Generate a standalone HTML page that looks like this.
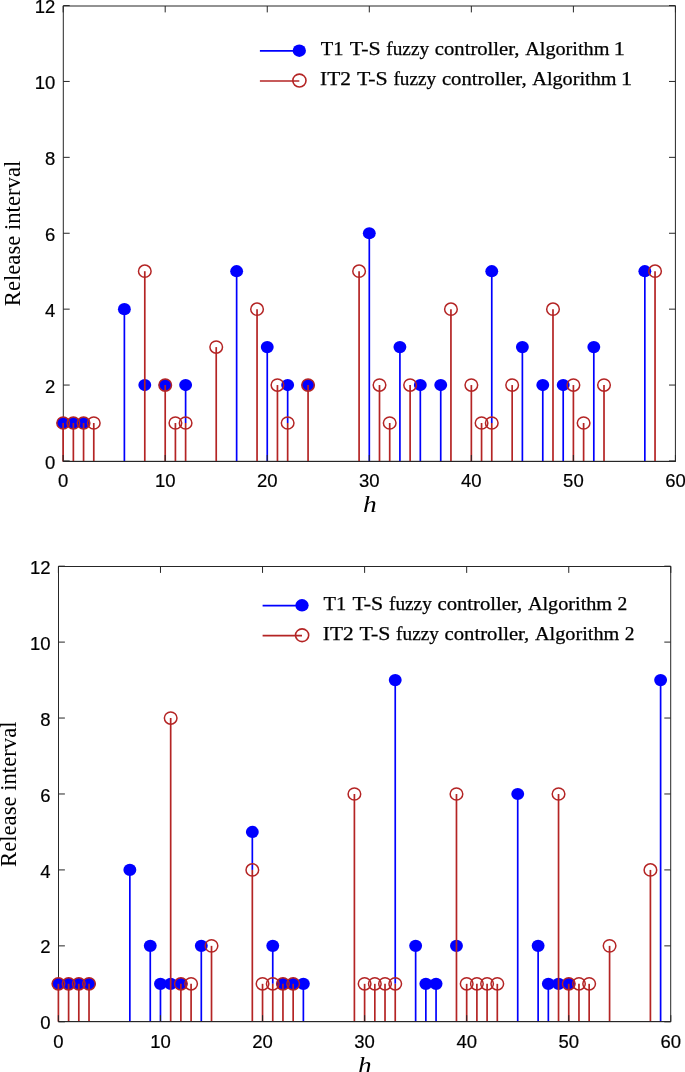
<!DOCTYPE html>
<html><head><meta charset="utf-8"><title>Release interval</title>
<style>
html,body{margin:0;padding:0;background:#fff;}
body{width:685px;height:1072px;overflow:hidden;}
svg{display:block;}
.tk{font-family:"Liberation Sans",Arial,sans-serif;font-size:18.5px;fill:#000;stroke:#000;stroke-width:0.2px;}
.xl{font-family:"Liberation Serif","Times New Roman",serif;font-style:italic;font-size:22.3px;fill:#000;}
.yl{font-family:"Liberation Serif","Times New Roman",serif;font-size:22.7px;fill:#000;}
.lg{font-family:"Liberation Serif","Times New Roman",serif;font-size:17.8px;fill:#000;stroke:#000;stroke-width:0.25px;}
</style></head><body>
<svg width="685" height="1072" viewBox="0 0 685 1072">
<rect width="685" height="1072" fill="#fff"/>
<rect x="63.3" y="6" width="612.1" height="455.4" fill="none" stroke="#262626" stroke-width="1"/>
<line x1="124.38" y1="461.4" x2="124.38" y2="309.15" stroke="#0000ff" stroke-width="1.7"/>
<line x1="185.61" y1="423" x2="185.61" y2="385.05" stroke="#0000ff" stroke-width="1.7"/>
<line x1="236.64" y1="461.4" x2="236.64" y2="271.2" stroke="#0000ff" stroke-width="1.7"/>
<line x1="267.25" y1="461.4" x2="267.25" y2="347.1" stroke="#0000ff" stroke-width="1.7"/>
<line x1="287.66" y1="423" x2="287.66" y2="385.05" stroke="#0000ff" stroke-width="1.7"/>
<line x1="369.3" y1="461.4" x2="369.3" y2="233.25" stroke="#0000ff" stroke-width="1.7"/>
<line x1="399.91" y1="461.4" x2="399.91" y2="347.1" stroke="#0000ff" stroke-width="1.7"/>
<line x1="420.32" y1="461.4" x2="420.32" y2="385.05" stroke="#0000ff" stroke-width="1.7"/>
<line x1="440.73" y1="461.4" x2="440.73" y2="385.05" stroke="#0000ff" stroke-width="1.7"/>
<line x1="491.76" y1="423" x2="491.76" y2="271.2" stroke="#0000ff" stroke-width="1.7"/>
<line x1="522.38" y1="461.4" x2="522.38" y2="347.1" stroke="#0000ff" stroke-width="1.7"/>
<line x1="542.78" y1="461.4" x2="542.78" y2="385.05" stroke="#0000ff" stroke-width="1.7"/>
<line x1="563.2" y1="461.4" x2="563.2" y2="385.05" stroke="#0000ff" stroke-width="1.7"/>
<line x1="593.81" y1="461.4" x2="593.81" y2="347.1" stroke="#0000ff" stroke-width="1.7"/>
<line x1="644.84" y1="461.4" x2="644.84" y2="271.2" stroke="#0000ff" stroke-width="1.7"/>
<ellipse cx="63.15" cy="423" rx="6.45" ry="6.1" fill="#0000ff"/>
<ellipse cx="73.36" cy="423" rx="6.45" ry="6.1" fill="#0000ff"/>
<ellipse cx="83.56" cy="423" rx="6.45" ry="6.1" fill="#0000ff"/>
<ellipse cx="124.38" cy="309.15" rx="6.45" ry="6.1" fill="#0000ff"/>
<ellipse cx="144.79" cy="385.05" rx="6.45" ry="6.1" fill="#0000ff"/>
<ellipse cx="165.2" cy="385.05" rx="6.45" ry="6.1" fill="#0000ff"/>
<ellipse cx="185.61" cy="385.05" rx="6.45" ry="6.1" fill="#0000ff"/>
<ellipse cx="236.64" cy="271.2" rx="6.45" ry="6.1" fill="#0000ff"/>
<ellipse cx="267.25" cy="347.1" rx="6.45" ry="6.1" fill="#0000ff"/>
<ellipse cx="287.66" cy="385.05" rx="6.45" ry="6.1" fill="#0000ff"/>
<ellipse cx="308.07" cy="385.05" rx="6.45" ry="6.1" fill="#0000ff"/>
<ellipse cx="369.3" cy="233.25" rx="6.45" ry="6.1" fill="#0000ff"/>
<ellipse cx="399.91" cy="347.1" rx="6.45" ry="6.1" fill="#0000ff"/>
<ellipse cx="420.32" cy="385.05" rx="6.45" ry="6.1" fill="#0000ff"/>
<ellipse cx="440.73" cy="385.05" rx="6.45" ry="6.1" fill="#0000ff"/>
<ellipse cx="491.76" cy="271.2" rx="6.45" ry="6.1" fill="#0000ff"/>
<ellipse cx="522.38" cy="347.1" rx="6.45" ry="6.1" fill="#0000ff"/>
<ellipse cx="542.78" cy="385.05" rx="6.45" ry="6.1" fill="#0000ff"/>
<ellipse cx="563.2" cy="385.05" rx="6.45" ry="6.1" fill="#0000ff"/>
<ellipse cx="593.81" cy="347.1" rx="6.45" ry="6.1" fill="#0000ff"/>
<ellipse cx="644.84" cy="271.2" rx="6.45" ry="6.1" fill="#0000ff"/>
<line x1="63.15" y1="461.4" x2="63.15" y2="423" stroke="#b42424" stroke-width="1.7"/>
<line x1="73.36" y1="461.4" x2="73.36" y2="423" stroke="#b42424" stroke-width="1.7"/>
<line x1="83.56" y1="461.4" x2="83.56" y2="423" stroke="#b42424" stroke-width="1.7"/>
<line x1="93.77" y1="461.4" x2="93.77" y2="423" stroke="#b42424" stroke-width="1.7"/>
<line x1="144.79" y1="461.4" x2="144.79" y2="271.2" stroke="#b42424" stroke-width="1.7"/>
<line x1="165.2" y1="461.4" x2="165.2" y2="385.05" stroke="#b42424" stroke-width="1.7"/>
<line x1="175.41" y1="461.4" x2="175.41" y2="423" stroke="#b42424" stroke-width="1.7"/>
<line x1="185.61" y1="461.4" x2="185.61" y2="423" stroke="#b42424" stroke-width="1.7"/>
<line x1="216.22" y1="461.4" x2="216.22" y2="347.1" stroke="#b42424" stroke-width="1.7"/>
<line x1="257.05" y1="461.4" x2="257.05" y2="309.15" stroke="#b42424" stroke-width="1.7"/>
<line x1="277.45" y1="461.4" x2="277.45" y2="385.05" stroke="#b42424" stroke-width="1.7"/>
<line x1="287.66" y1="461.4" x2="287.66" y2="423" stroke="#b42424" stroke-width="1.7"/>
<line x1="308.07" y1="461.4" x2="308.07" y2="385.05" stroke="#b42424" stroke-width="1.7"/>
<line x1="359.09" y1="461.4" x2="359.09" y2="271.2" stroke="#b42424" stroke-width="1.7"/>
<line x1="379.5" y1="461.4" x2="379.5" y2="385.05" stroke="#b42424" stroke-width="1.7"/>
<line x1="389.71" y1="461.4" x2="389.71" y2="423" stroke="#b42424" stroke-width="1.7"/>
<line x1="410.12" y1="461.4" x2="410.12" y2="385.05" stroke="#b42424" stroke-width="1.7"/>
<line x1="450.94" y1="461.4" x2="450.94" y2="309.15" stroke="#b42424" stroke-width="1.7"/>
<line x1="471.35" y1="461.4" x2="471.35" y2="385.05" stroke="#b42424" stroke-width="1.7"/>
<line x1="481.56" y1="461.4" x2="481.56" y2="423" stroke="#b42424" stroke-width="1.7"/>
<line x1="491.76" y1="461.4" x2="491.76" y2="423" stroke="#b42424" stroke-width="1.7"/>
<line x1="512.17" y1="461.4" x2="512.17" y2="385.05" stroke="#b42424" stroke-width="1.7"/>
<line x1="552.99" y1="461.4" x2="552.99" y2="309.15" stroke="#b42424" stroke-width="1.7"/>
<line x1="573.4" y1="461.4" x2="573.4" y2="385.05" stroke="#b42424" stroke-width="1.7"/>
<line x1="583.61" y1="461.4" x2="583.61" y2="423" stroke="#b42424" stroke-width="1.7"/>
<line x1="604.01" y1="461.4" x2="604.01" y2="385.05" stroke="#b42424" stroke-width="1.7"/>
<line x1="655.04" y1="461.4" x2="655.04" y2="271.2" stroke="#b42424" stroke-width="1.7"/>
<ellipse cx="63.15" cy="423" rx="6.3" ry="6.1" fill="none" stroke="#b42424" stroke-width="1.5"/>
<ellipse cx="73.36" cy="423" rx="6.3" ry="6.1" fill="none" stroke="#b42424" stroke-width="1.5"/>
<ellipse cx="83.56" cy="423" rx="6.3" ry="6.1" fill="none" stroke="#b42424" stroke-width="1.5"/>
<ellipse cx="93.77" cy="423" rx="6.3" ry="6.1" fill="none" stroke="#b42424" stroke-width="1.5"/>
<ellipse cx="144.79" cy="271.2" rx="6.3" ry="6.1" fill="none" stroke="#b42424" stroke-width="1.5"/>
<ellipse cx="165.2" cy="385.05" rx="6.3" ry="6.1" fill="none" stroke="#b42424" stroke-width="1.5"/>
<ellipse cx="175.41" cy="423" rx="6.3" ry="6.1" fill="none" stroke="#b42424" stroke-width="1.5"/>
<ellipse cx="185.61" cy="423" rx="6.3" ry="6.1" fill="none" stroke="#b42424" stroke-width="1.5"/>
<ellipse cx="216.22" cy="347.1" rx="6.3" ry="6.1" fill="none" stroke="#b42424" stroke-width="1.5"/>
<ellipse cx="257.05" cy="309.15" rx="6.3" ry="6.1" fill="none" stroke="#b42424" stroke-width="1.5"/>
<ellipse cx="277.45" cy="385.05" rx="6.3" ry="6.1" fill="none" stroke="#b42424" stroke-width="1.5"/>
<ellipse cx="287.66" cy="423" rx="6.3" ry="6.1" fill="none" stroke="#b42424" stroke-width="1.5"/>
<ellipse cx="308.07" cy="385.05" rx="6.3" ry="6.1" fill="none" stroke="#b42424" stroke-width="1.5"/>
<ellipse cx="359.09" cy="271.2" rx="6.3" ry="6.1" fill="none" stroke="#b42424" stroke-width="1.5"/>
<ellipse cx="379.5" cy="385.05" rx="6.3" ry="6.1" fill="none" stroke="#b42424" stroke-width="1.5"/>
<ellipse cx="389.71" cy="423" rx="6.3" ry="6.1" fill="none" stroke="#b42424" stroke-width="1.5"/>
<ellipse cx="410.12" cy="385.05" rx="6.3" ry="6.1" fill="none" stroke="#b42424" stroke-width="1.5"/>
<ellipse cx="450.94" cy="309.15" rx="6.3" ry="6.1" fill="none" stroke="#b42424" stroke-width="1.5"/>
<ellipse cx="471.35" cy="385.05" rx="6.3" ry="6.1" fill="none" stroke="#b42424" stroke-width="1.5"/>
<ellipse cx="481.56" cy="423" rx="6.3" ry="6.1" fill="none" stroke="#b42424" stroke-width="1.5"/>
<ellipse cx="491.76" cy="423" rx="6.3" ry="6.1" fill="none" stroke="#b42424" stroke-width="1.5"/>
<ellipse cx="512.17" cy="385.05" rx="6.3" ry="6.1" fill="none" stroke="#b42424" stroke-width="1.5"/>
<ellipse cx="552.99" cy="309.15" rx="6.3" ry="6.1" fill="none" stroke="#b42424" stroke-width="1.5"/>
<ellipse cx="573.4" cy="385.05" rx="6.3" ry="6.1" fill="none" stroke="#b42424" stroke-width="1.5"/>
<ellipse cx="583.61" cy="423" rx="6.3" ry="6.1" fill="none" stroke="#b42424" stroke-width="1.5"/>
<ellipse cx="604.01" cy="385.05" rx="6.3" ry="6.1" fill="none" stroke="#b42424" stroke-width="1.5"/>
<ellipse cx="655.04" cy="271.2" rx="6.3" ry="6.1" fill="none" stroke="#b42424" stroke-width="1.5"/>
<line x1="63.3" y1="461.4" x2="675.4" y2="461.4" stroke="#262626" stroke-width="1"/>
<line x1="63.15" y1="461.4" x2="63.15" y2="455" stroke="#262626" stroke-width="1"/>
<line x1="63.15" y1="6" x2="63.15" y2="12.4" stroke="#262626" stroke-width="1"/>
<text x="63.15" y="487.4" class="tk" text-anchor="middle">0</text>
<line x1="165.2" y1="461.4" x2="165.2" y2="455" stroke="#262626" stroke-width="1"/>
<line x1="165.2" y1="6" x2="165.2" y2="12.4" stroke="#262626" stroke-width="1"/>
<text x="165.2" y="487.4" class="tk" text-anchor="middle">10</text>
<line x1="267.25" y1="461.4" x2="267.25" y2="455" stroke="#262626" stroke-width="1"/>
<line x1="267.25" y1="6" x2="267.25" y2="12.4" stroke="#262626" stroke-width="1"/>
<text x="267.25" y="487.4" class="tk" text-anchor="middle">20</text>
<line x1="369.3" y1="461.4" x2="369.3" y2="455" stroke="#262626" stroke-width="1"/>
<line x1="369.3" y1="6" x2="369.3" y2="12.4" stroke="#262626" stroke-width="1"/>
<text x="369.3" y="487.4" class="tk" text-anchor="middle">30</text>
<line x1="471.35" y1="461.4" x2="471.35" y2="455" stroke="#262626" stroke-width="1"/>
<line x1="471.35" y1="6" x2="471.35" y2="12.4" stroke="#262626" stroke-width="1"/>
<text x="471.35" y="487.4" class="tk" text-anchor="middle">40</text>
<line x1="573.4" y1="461.4" x2="573.4" y2="455" stroke="#262626" stroke-width="1"/>
<line x1="573.4" y1="6" x2="573.4" y2="12.4" stroke="#262626" stroke-width="1"/>
<text x="573.4" y="487.4" class="tk" text-anchor="middle">50</text>
<line x1="675.45" y1="461.4" x2="675.45" y2="455" stroke="#262626" stroke-width="1"/>
<line x1="675.45" y1="6" x2="675.45" y2="12.4" stroke="#262626" stroke-width="1"/>
<text x="675.45" y="487.4" class="tk" text-anchor="middle">60</text>
<line x1="63.3" y1="460.95" x2="69.7" y2="460.95" stroke="#262626" stroke-width="1"/>
<line x1="675.4" y1="460.95" x2="669" y2="460.95" stroke="#262626" stroke-width="1"/>
<text x="55.4" y="468.55" class="tk" text-anchor="end">0</text>
<line x1="63.3" y1="385.05" x2="69.7" y2="385.05" stroke="#262626" stroke-width="1"/>
<line x1="675.4" y1="385.05" x2="669" y2="385.05" stroke="#262626" stroke-width="1"/>
<text x="55.4" y="392.65" class="tk" text-anchor="end">2</text>
<line x1="63.3" y1="309.15" x2="69.7" y2="309.15" stroke="#262626" stroke-width="1"/>
<line x1="675.4" y1="309.15" x2="669" y2="309.15" stroke="#262626" stroke-width="1"/>
<text x="55.4" y="316.75" class="tk" text-anchor="end">4</text>
<line x1="63.3" y1="233.25" x2="69.7" y2="233.25" stroke="#262626" stroke-width="1"/>
<line x1="675.4" y1="233.25" x2="669" y2="233.25" stroke="#262626" stroke-width="1"/>
<text x="55.4" y="240.85" class="tk" text-anchor="end">6</text>
<line x1="63.3" y1="157.35" x2="69.7" y2="157.35" stroke="#262626" stroke-width="1"/>
<line x1="675.4" y1="157.35" x2="669" y2="157.35" stroke="#262626" stroke-width="1"/>
<text x="55.4" y="164.95" class="tk" text-anchor="end">8</text>
<line x1="63.3" y1="81.45" x2="69.7" y2="81.45" stroke="#262626" stroke-width="1"/>
<line x1="675.4" y1="81.45" x2="669" y2="81.45" stroke="#262626" stroke-width="1"/>
<text x="55.4" y="89.05" class="tk" text-anchor="end">10</text>
<line x1="63.3" y1="5.55" x2="69.7" y2="5.55" stroke="#262626" stroke-width="1"/>
<line x1="675.4" y1="5.55" x2="669" y2="5.55" stroke="#262626" stroke-width="1"/>
<text x="55.4" y="13.15" class="tk" text-anchor="end">12</text>
<text x="363.01" y="511.8" class="xl" textLength="13.73" lengthAdjust="spacingAndGlyphs">h</text>
<text transform="translate(20.3,233.5) rotate(-90)" class="yl" text-anchor="middle">Release interval</text>
<line x1="259.9" y1="50.85" x2="299.3" y2="50.85" stroke="#0000ff" stroke-width="1.8"/>
<ellipse cx="299.3" cy="50.65" rx="6.65" ry="6.25" fill="#0000ff"/>
<line x1="259.9" y1="81" x2="299.3" y2="81" stroke="#b42424" stroke-width="1.7"/>
<ellipse cx="299.4" cy="80.55" rx="6.6" ry="6.4" fill="none" stroke="#b42424" stroke-width="1.6"/>
<text x="320.73" y="54.9" class="lg" textLength="22.7" lengthAdjust="spacingAndGlyphs">T1</text><text x="349.83" y="54.9" class="lg" textLength="30.74" lengthAdjust="spacingAndGlyphs">T-S</text><text x="386.31" y="54.9" class="lg" textLength="42.77" lengthAdjust="spacingAndGlyphs">fuzzy</text><text x="434.82" y="54.9" class="lg" textLength="84.67" lengthAdjust="spacingAndGlyphs">controller,</text><text x="525.2" y="54.9" class="lg" textLength="84.21" lengthAdjust="spacingAndGlyphs">Algorithm</text><text x="613.85" y="54.9" class="lg" textLength="11.08" lengthAdjust="spacingAndGlyphs">1</text>
<text x="320.13" y="85.3" class="lg" textLength="30.85" lengthAdjust="spacingAndGlyphs">IT2</text><text x="356.93" y="85.3" class="lg" textLength="30.74" lengthAdjust="spacingAndGlyphs">T-S</text><text x="393.41" y="85.3" class="lg" textLength="42.77" lengthAdjust="spacingAndGlyphs">fuzzy</text><text x="441.92" y="85.3" class="lg" textLength="84.67" lengthAdjust="spacingAndGlyphs">controller,</text><text x="532.3" y="85.3" class="lg" textLength="84.21" lengthAdjust="spacingAndGlyphs">Algorithm</text><text x="620.95" y="85.3" class="lg" textLength="11.08" lengthAdjust="spacingAndGlyphs">1</text>
<rect x="58.5" y="566.5" width="612.2" height="455.1" fill="none" stroke="#262626" stroke-width="1"/>
<line x1="129.85" y1="1021.6" x2="129.85" y2="869.92" stroke="#0000ff" stroke-width="1.7"/>
<line x1="150.26" y1="1021.6" x2="150.26" y2="945.86" stroke="#0000ff" stroke-width="1.7"/>
<line x1="160.47" y1="1021.6" x2="160.47" y2="983.83" stroke="#0000ff" stroke-width="1.7"/>
<line x1="201.3" y1="1021.6" x2="201.3" y2="945.86" stroke="#0000ff" stroke-width="1.7"/>
<line x1="252.33" y1="869.92" x2="252.33" y2="831.95" stroke="#0000ff" stroke-width="1.7"/>
<line x1="272.75" y1="983.83" x2="272.75" y2="945.86" stroke="#0000ff" stroke-width="1.7"/>
<line x1="303.37" y1="1021.6" x2="303.37" y2="983.83" stroke="#0000ff" stroke-width="1.7"/>
<line x1="395.23" y1="983.83" x2="395.23" y2="680.07" stroke="#0000ff" stroke-width="1.7"/>
<line x1="415.64" y1="1021.6" x2="415.64" y2="945.86" stroke="#0000ff" stroke-width="1.7"/>
<line x1="425.85" y1="1021.6" x2="425.85" y2="983.83" stroke="#0000ff" stroke-width="1.7"/>
<line x1="436.06" y1="1021.6" x2="436.06" y2="983.83" stroke="#0000ff" stroke-width="1.7"/>
<line x1="517.72" y1="1021.6" x2="517.72" y2="793.98" stroke="#0000ff" stroke-width="1.7"/>
<line x1="538.13" y1="1021.6" x2="538.13" y2="945.86" stroke="#0000ff" stroke-width="1.7"/>
<line x1="548.34" y1="1021.6" x2="548.34" y2="983.83" stroke="#0000ff" stroke-width="1.7"/>
<line x1="660.61" y1="1021.6" x2="660.61" y2="680.07" stroke="#0000ff" stroke-width="1.7"/>
<ellipse cx="58.4" cy="983.83" rx="6.45" ry="6.1" fill="#0000ff"/>
<ellipse cx="68.61" cy="983.83" rx="6.45" ry="6.1" fill="#0000ff"/>
<ellipse cx="78.81" cy="983.83" rx="6.45" ry="6.1" fill="#0000ff"/>
<ellipse cx="89.02" cy="983.83" rx="6.45" ry="6.1" fill="#0000ff"/>
<ellipse cx="129.85" cy="869.92" rx="6.45" ry="6.1" fill="#0000ff"/>
<ellipse cx="150.26" cy="945.86" rx="6.45" ry="6.1" fill="#0000ff"/>
<ellipse cx="160.47" cy="983.83" rx="6.45" ry="6.1" fill="#0000ff"/>
<ellipse cx="170.68" cy="983.83" rx="6.45" ry="6.1" fill="#0000ff"/>
<ellipse cx="180.88" cy="983.83" rx="6.45" ry="6.1" fill="#0000ff"/>
<ellipse cx="201.3" cy="945.86" rx="6.45" ry="6.1" fill="#0000ff"/>
<ellipse cx="252.33" cy="831.95" rx="6.45" ry="6.1" fill="#0000ff"/>
<ellipse cx="272.75" cy="945.86" rx="6.45" ry="6.1" fill="#0000ff"/>
<ellipse cx="282.95" cy="983.83" rx="6.45" ry="6.1" fill="#0000ff"/>
<ellipse cx="293.16" cy="983.83" rx="6.45" ry="6.1" fill="#0000ff"/>
<ellipse cx="303.37" cy="983.83" rx="6.45" ry="6.1" fill="#0000ff"/>
<ellipse cx="395.23" cy="680.07" rx="6.45" ry="6.1" fill="#0000ff"/>
<ellipse cx="415.64" cy="945.86" rx="6.45" ry="6.1" fill="#0000ff"/>
<ellipse cx="425.85" cy="983.83" rx="6.45" ry="6.1" fill="#0000ff"/>
<ellipse cx="436.06" cy="983.83" rx="6.45" ry="6.1" fill="#0000ff"/>
<ellipse cx="456.47" cy="945.86" rx="6.45" ry="6.1" fill="#0000ff"/>
<ellipse cx="517.72" cy="793.98" rx="6.45" ry="6.1" fill="#0000ff"/>
<ellipse cx="538.13" cy="945.86" rx="6.45" ry="6.1" fill="#0000ff"/>
<ellipse cx="548.34" cy="983.83" rx="6.45" ry="6.1" fill="#0000ff"/>
<ellipse cx="558.54" cy="983.83" rx="6.45" ry="6.1" fill="#0000ff"/>
<ellipse cx="568.75" cy="983.83" rx="6.45" ry="6.1" fill="#0000ff"/>
<ellipse cx="660.61" cy="680.07" rx="6.45" ry="6.1" fill="#0000ff"/>
<line x1="58.4" y1="1021.6" x2="58.4" y2="983.83" stroke="#b42424" stroke-width="1.7"/>
<line x1="68.61" y1="1021.6" x2="68.61" y2="983.83" stroke="#b42424" stroke-width="1.7"/>
<line x1="78.81" y1="1021.6" x2="78.81" y2="983.83" stroke="#b42424" stroke-width="1.7"/>
<line x1="89.02" y1="1021.6" x2="89.02" y2="983.83" stroke="#b42424" stroke-width="1.7"/>
<line x1="170.68" y1="1021.6" x2="170.68" y2="718.04" stroke="#b42424" stroke-width="1.7"/>
<line x1="180.88" y1="1021.6" x2="180.88" y2="983.83" stroke="#b42424" stroke-width="1.7"/>
<line x1="191.09" y1="1021.6" x2="191.09" y2="983.83" stroke="#b42424" stroke-width="1.7"/>
<line x1="211.51" y1="1021.6" x2="211.51" y2="945.86" stroke="#b42424" stroke-width="1.7"/>
<line x1="252.33" y1="1021.6" x2="252.33" y2="869.92" stroke="#b42424" stroke-width="1.7"/>
<line x1="262.54" y1="1021.6" x2="262.54" y2="983.83" stroke="#b42424" stroke-width="1.7"/>
<line x1="272.75" y1="1021.6" x2="272.75" y2="983.83" stroke="#b42424" stroke-width="1.7"/>
<line x1="282.95" y1="1021.6" x2="282.95" y2="983.83" stroke="#b42424" stroke-width="1.7"/>
<line x1="293.16" y1="1021.6" x2="293.16" y2="983.83" stroke="#b42424" stroke-width="1.7"/>
<line x1="354.4" y1="1021.6" x2="354.4" y2="793.98" stroke="#b42424" stroke-width="1.7"/>
<line x1="364.61" y1="1021.6" x2="364.61" y2="983.83" stroke="#b42424" stroke-width="1.7"/>
<line x1="374.82" y1="1021.6" x2="374.82" y2="983.83" stroke="#b42424" stroke-width="1.7"/>
<line x1="385.02" y1="1021.6" x2="385.02" y2="983.83" stroke="#b42424" stroke-width="1.7"/>
<line x1="395.23" y1="1021.6" x2="395.23" y2="983.83" stroke="#b42424" stroke-width="1.7"/>
<line x1="456.47" y1="1021.6" x2="456.47" y2="793.98" stroke="#b42424" stroke-width="1.7"/>
<line x1="466.68" y1="1021.6" x2="466.68" y2="983.83" stroke="#b42424" stroke-width="1.7"/>
<line x1="476.89" y1="1021.6" x2="476.89" y2="983.83" stroke="#b42424" stroke-width="1.7"/>
<line x1="487.09" y1="1021.6" x2="487.09" y2="983.83" stroke="#b42424" stroke-width="1.7"/>
<line x1="497.3" y1="1021.6" x2="497.3" y2="983.83" stroke="#b42424" stroke-width="1.7"/>
<line x1="558.54" y1="1021.6" x2="558.54" y2="793.98" stroke="#b42424" stroke-width="1.7"/>
<line x1="568.75" y1="1021.6" x2="568.75" y2="983.83" stroke="#b42424" stroke-width="1.7"/>
<line x1="578.96" y1="1021.6" x2="578.96" y2="983.83" stroke="#b42424" stroke-width="1.7"/>
<line x1="589.16" y1="1021.6" x2="589.16" y2="983.83" stroke="#b42424" stroke-width="1.7"/>
<line x1="609.58" y1="1021.6" x2="609.58" y2="945.86" stroke="#b42424" stroke-width="1.7"/>
<line x1="650.41" y1="1021.6" x2="650.41" y2="869.92" stroke="#b42424" stroke-width="1.7"/>
<ellipse cx="58.4" cy="983.83" rx="6.3" ry="6.1" fill="none" stroke="#b42424" stroke-width="1.5"/>
<ellipse cx="68.61" cy="983.83" rx="6.3" ry="6.1" fill="none" stroke="#b42424" stroke-width="1.5"/>
<ellipse cx="78.81" cy="983.83" rx="6.3" ry="6.1" fill="none" stroke="#b42424" stroke-width="1.5"/>
<ellipse cx="89.02" cy="983.83" rx="6.3" ry="6.1" fill="none" stroke="#b42424" stroke-width="1.5"/>
<ellipse cx="170.68" cy="718.04" rx="6.3" ry="6.1" fill="none" stroke="#b42424" stroke-width="1.5"/>
<ellipse cx="180.88" cy="983.83" rx="6.3" ry="6.1" fill="none" stroke="#b42424" stroke-width="1.5"/>
<ellipse cx="191.09" cy="983.83" rx="6.3" ry="6.1" fill="none" stroke="#b42424" stroke-width="1.5"/>
<ellipse cx="211.51" cy="945.86" rx="6.3" ry="6.1" fill="none" stroke="#b42424" stroke-width="1.5"/>
<ellipse cx="252.33" cy="869.92" rx="6.3" ry="6.1" fill="none" stroke="#b42424" stroke-width="1.5"/>
<ellipse cx="262.54" cy="983.83" rx="6.3" ry="6.1" fill="none" stroke="#b42424" stroke-width="1.5"/>
<ellipse cx="272.75" cy="983.83" rx="6.3" ry="6.1" fill="none" stroke="#b42424" stroke-width="1.5"/>
<ellipse cx="282.95" cy="983.83" rx="6.3" ry="6.1" fill="none" stroke="#b42424" stroke-width="1.5"/>
<ellipse cx="293.16" cy="983.83" rx="6.3" ry="6.1" fill="none" stroke="#b42424" stroke-width="1.5"/>
<ellipse cx="354.4" cy="793.98" rx="6.3" ry="6.1" fill="none" stroke="#b42424" stroke-width="1.5"/>
<ellipse cx="364.61" cy="983.83" rx="6.3" ry="6.1" fill="none" stroke="#b42424" stroke-width="1.5"/>
<ellipse cx="374.82" cy="983.83" rx="6.3" ry="6.1" fill="none" stroke="#b42424" stroke-width="1.5"/>
<ellipse cx="385.02" cy="983.83" rx="6.3" ry="6.1" fill="none" stroke="#b42424" stroke-width="1.5"/>
<ellipse cx="395.23" cy="983.83" rx="6.3" ry="6.1" fill="none" stroke="#b42424" stroke-width="1.5"/>
<ellipse cx="456.47" cy="793.98" rx="6.3" ry="6.1" fill="none" stroke="#b42424" stroke-width="1.5"/>
<ellipse cx="466.68" cy="983.83" rx="6.3" ry="6.1" fill="none" stroke="#b42424" stroke-width="1.5"/>
<ellipse cx="476.89" cy="983.83" rx="6.3" ry="6.1" fill="none" stroke="#b42424" stroke-width="1.5"/>
<ellipse cx="487.09" cy="983.83" rx="6.3" ry="6.1" fill="none" stroke="#b42424" stroke-width="1.5"/>
<ellipse cx="497.3" cy="983.83" rx="6.3" ry="6.1" fill="none" stroke="#b42424" stroke-width="1.5"/>
<ellipse cx="558.54" cy="793.98" rx="6.3" ry="6.1" fill="none" stroke="#b42424" stroke-width="1.5"/>
<ellipse cx="568.75" cy="983.83" rx="6.3" ry="6.1" fill="none" stroke="#b42424" stroke-width="1.5"/>
<ellipse cx="578.96" cy="983.83" rx="6.3" ry="6.1" fill="none" stroke="#b42424" stroke-width="1.5"/>
<ellipse cx="589.16" cy="983.83" rx="6.3" ry="6.1" fill="none" stroke="#b42424" stroke-width="1.5"/>
<ellipse cx="609.58" cy="945.86" rx="6.3" ry="6.1" fill="none" stroke="#b42424" stroke-width="1.5"/>
<ellipse cx="650.41" cy="869.92" rx="6.3" ry="6.1" fill="none" stroke="#b42424" stroke-width="1.5"/>
<line x1="58.5" y1="1021.6" x2="670.7" y2="1021.6" stroke="#262626" stroke-width="1"/>
<line x1="58.4" y1="1021.6" x2="58.4" y2="1015.2" stroke="#262626" stroke-width="1"/>
<line x1="58.4" y1="566.5" x2="58.4" y2="572.9" stroke="#262626" stroke-width="1"/>
<text x="58.4" y="1047.6" class="tk" text-anchor="middle">0</text>
<line x1="160.47" y1="1021.6" x2="160.47" y2="1015.2" stroke="#262626" stroke-width="1"/>
<line x1="160.47" y1="566.5" x2="160.47" y2="572.9" stroke="#262626" stroke-width="1"/>
<text x="160.47" y="1047.6" class="tk" text-anchor="middle">10</text>
<line x1="262.54" y1="1021.6" x2="262.54" y2="1015.2" stroke="#262626" stroke-width="1"/>
<line x1="262.54" y1="566.5" x2="262.54" y2="572.9" stroke="#262626" stroke-width="1"/>
<text x="262.54" y="1047.6" class="tk" text-anchor="middle">20</text>
<line x1="364.61" y1="1021.6" x2="364.61" y2="1015.2" stroke="#262626" stroke-width="1"/>
<line x1="364.61" y1="566.5" x2="364.61" y2="572.9" stroke="#262626" stroke-width="1"/>
<text x="364.61" y="1047.6" class="tk" text-anchor="middle">30</text>
<line x1="466.68" y1="1021.6" x2="466.68" y2="1015.2" stroke="#262626" stroke-width="1"/>
<line x1="466.68" y1="566.5" x2="466.68" y2="572.9" stroke="#262626" stroke-width="1"/>
<text x="466.68" y="1047.6" class="tk" text-anchor="middle">40</text>
<line x1="568.75" y1="1021.6" x2="568.75" y2="1015.2" stroke="#262626" stroke-width="1"/>
<line x1="568.75" y1="566.5" x2="568.75" y2="572.9" stroke="#262626" stroke-width="1"/>
<text x="568.75" y="1047.6" class="tk" text-anchor="middle">50</text>
<line x1="670.82" y1="1021.6" x2="670.82" y2="1015.2" stroke="#262626" stroke-width="1"/>
<line x1="670.82" y1="566.5" x2="670.82" y2="572.9" stroke="#262626" stroke-width="1"/>
<text x="670.82" y="1047.6" class="tk" text-anchor="middle">60</text>
<line x1="58.5" y1="1021.8" x2="64.9" y2="1021.8" stroke="#262626" stroke-width="1"/>
<line x1="670.7" y1="1021.8" x2="664.3" y2="1021.8" stroke="#262626" stroke-width="1"/>
<text x="50.6" y="1029.4" class="tk" text-anchor="end">0</text>
<line x1="58.5" y1="945.86" x2="64.9" y2="945.86" stroke="#262626" stroke-width="1"/>
<line x1="670.7" y1="945.86" x2="664.3" y2="945.86" stroke="#262626" stroke-width="1"/>
<text x="50.6" y="953.46" class="tk" text-anchor="end">2</text>
<line x1="58.5" y1="869.92" x2="64.9" y2="869.92" stroke="#262626" stroke-width="1"/>
<line x1="670.7" y1="869.92" x2="664.3" y2="869.92" stroke="#262626" stroke-width="1"/>
<text x="50.6" y="877.52" class="tk" text-anchor="end">4</text>
<line x1="58.5" y1="793.98" x2="64.9" y2="793.98" stroke="#262626" stroke-width="1"/>
<line x1="670.7" y1="793.98" x2="664.3" y2="793.98" stroke="#262626" stroke-width="1"/>
<text x="50.6" y="801.58" class="tk" text-anchor="end">6</text>
<line x1="58.5" y1="718.04" x2="64.9" y2="718.04" stroke="#262626" stroke-width="1"/>
<line x1="670.7" y1="718.04" x2="664.3" y2="718.04" stroke="#262626" stroke-width="1"/>
<text x="50.6" y="725.64" class="tk" text-anchor="end">8</text>
<line x1="58.5" y1="642.1" x2="64.9" y2="642.1" stroke="#262626" stroke-width="1"/>
<line x1="670.7" y1="642.1" x2="664.3" y2="642.1" stroke="#262626" stroke-width="1"/>
<text x="50.6" y="649.7" class="tk" text-anchor="end">10</text>
<line x1="58.5" y1="566.16" x2="64.9" y2="566.16" stroke="#262626" stroke-width="1"/>
<line x1="670.7" y1="566.16" x2="664.3" y2="566.16" stroke="#262626" stroke-width="1"/>
<text x="50.6" y="573.76" class="tk" text-anchor="end">12</text>
<text x="358.12" y="1073" class="xl" textLength="13.61" lengthAdjust="spacingAndGlyphs">h</text>
<text transform="translate(15.8,794.25) rotate(-90)" class="yl" text-anchor="middle">Release interval</text>
<line x1="262.6" y1="605.55" x2="302" y2="605.55" stroke="#0000ff" stroke-width="1.8"/>
<ellipse cx="302" cy="605.35" rx="6.65" ry="6.25" fill="#0000ff"/>
<line x1="262.6" y1="635.7" x2="302" y2="635.7" stroke="#b42424" stroke-width="1.7"/>
<ellipse cx="302.1" cy="635.25" rx="6.6" ry="6.4" fill="none" stroke="#b42424" stroke-width="1.6"/>
<text x="323.43" y="609.6" class="lg" textLength="22.7" lengthAdjust="spacingAndGlyphs">T1</text><text x="352.53" y="609.6" class="lg" textLength="30.74" lengthAdjust="spacingAndGlyphs">T-S</text><text x="389.01" y="609.6" class="lg" textLength="42.77" lengthAdjust="spacingAndGlyphs">fuzzy</text><text x="437.52" y="609.6" class="lg" textLength="84.67" lengthAdjust="spacingAndGlyphs">controller,</text><text x="527.9" y="609.6" class="lg" textLength="84.21" lengthAdjust="spacingAndGlyphs">Algorithm</text><text x="617.64" y="609.6" class="lg" textLength="9.73" lengthAdjust="spacingAndGlyphs">2</text>
<text x="322.83" y="640" class="lg" textLength="30.85" lengthAdjust="spacingAndGlyphs">IT2</text><text x="359.63" y="640" class="lg" textLength="30.74" lengthAdjust="spacingAndGlyphs">T-S</text><text x="396.11" y="640" class="lg" textLength="42.77" lengthAdjust="spacingAndGlyphs">fuzzy</text><text x="444.62" y="640" class="lg" textLength="84.67" lengthAdjust="spacingAndGlyphs">controller,</text><text x="535" y="640" class="lg" textLength="84.21" lengthAdjust="spacingAndGlyphs">Algorithm</text><text x="624.74" y="640" class="lg" textLength="9.73" lengthAdjust="spacingAndGlyphs">2</text>
</svg>
</body></html>
